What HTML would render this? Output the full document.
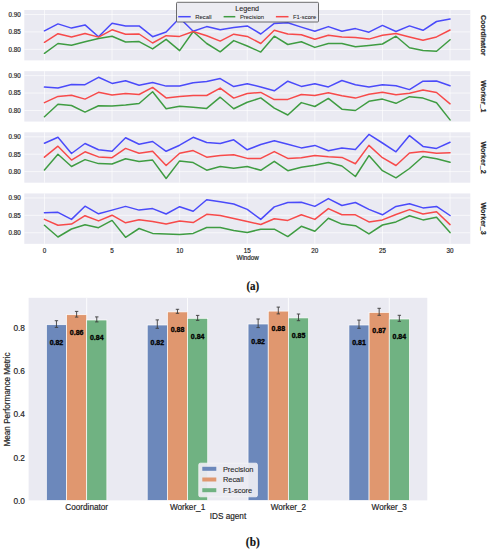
<!DOCTYPE html>
<html><head><meta charset="utf-8"><style>
html,body{margin:0;padding:0;background:#fff;}
svg{display:block;font-family:"Liberation Sans",sans-serif;}
</style></head><body>
<svg width="490" height="550" viewBox="0 0 490 550">
<rect width="490" height="550" fill="#fff"/>
<rect x="24.3" y="10" width="446" height="50.4" fill="#eaeaf2"/>
<line x1="44.45" y1="10" x2="44.45" y2="60.4" stroke="#fff" stroke-width="0.8" stroke-opacity="0.8"/>
<line x1="112.05" y1="10" x2="112.05" y2="60.4" stroke="#fff" stroke-width="0.8" stroke-opacity="0.8"/>
<line x1="179.65" y1="10" x2="179.65" y2="60.4" stroke="#fff" stroke-width="0.8" stroke-opacity="0.8"/>
<line x1="247.25" y1="10" x2="247.25" y2="60.4" stroke="#fff" stroke-width="0.8" stroke-opacity="0.8"/>
<line x1="314.85" y1="10" x2="314.85" y2="60.4" stroke="#fff" stroke-width="0.8" stroke-opacity="0.8"/>
<line x1="382.45" y1="10" x2="382.45" y2="60.4" stroke="#fff" stroke-width="0.8" stroke-opacity="0.8"/>
<line x1="450.05" y1="10" x2="450.05" y2="60.4" stroke="#fff" stroke-width="0.8" stroke-opacity="0.8"/>
<line x1="24.3" y1="14.5" x2="470.3" y2="14.5" stroke="#fff" stroke-width="0.8" stroke-opacity="0.8"/>
<text x="20.8" y="16.8" font-size="6.3" text-anchor="end" fill="#262626" stroke="#262626" stroke-width="0.18">0.90</text>
<line x1="24.3" y1="31.9" x2="470.3" y2="31.9" stroke="#fff" stroke-width="0.8" stroke-opacity="0.8"/>
<text x="20.8" y="34.2" font-size="6.3" text-anchor="end" fill="#262626" stroke="#262626" stroke-width="0.18">0.85</text>
<line x1="24.3" y1="49.3" x2="470.3" y2="49.3" stroke="#fff" stroke-width="0.8" stroke-opacity="0.8"/>
<text x="20.8" y="51.6" font-size="6.3" text-anchor="end" fill="#262626" stroke="#262626" stroke-width="0.18">0.80</text>
<polyline points="44.45,30.8 57.97,23.9 71.49,28.1 85.01,24.9 98.53,36.7 112.05,23.2 125.57,26.1 139.09,25.9 152.61,36.7 166.13,32 179.65,18 193.17,31.3 206.69,26.6 220.21,29.8 233.73,27.6 247.25,25.9 260.77,34 274.29,23.4 287.81,22.7 301.33,27.1 314.85,31.3 328.37,26.6 341.89,31.3 355.41,28.6 368.93,32.2 382.45,25.4 395.97,31.5 409.49,25.9 423.01,30.3 436.53,21.5 450.05,19" fill="none" stroke="#4a4afa" stroke-width="1.5" stroke-linejoin="round" stroke-linecap="round"/>
<polyline points="44.45,53.3 57.97,43.5 71.49,45.2 85.01,41.8 98.53,38.4 112.05,36.2 125.57,42 139.09,41.6 152.61,48.9 166.13,39.3 179.65,50.6 193.17,31.5 206.69,43.5 220.21,51.8 233.73,40.6 247.25,46 260.77,52.1 274.29,36.2 287.81,44.5 301.33,41.8 314.85,47.4 328.37,43.5 341.89,43.5 355.41,46.7 368.93,45.5 382.45,44 395.97,36.2 409.49,47.7 423.01,50.4 436.53,51.3 450.05,39.8" fill="none" stroke="#3f9c42" stroke-width="1.5" stroke-linejoin="round" stroke-linecap="round"/>
<polyline points="44.45,42.3 57.97,33.7 71.49,36.9 85.01,33.5 98.53,37.1 112.05,29.8 125.57,34.2 139.09,34 152.61,43 166.13,35.7 179.65,36.4 193.17,31.5 206.69,35.7 220.21,41.1 233.73,34.2 247.25,36.4 260.77,43.5 274.29,30.3 287.81,34 301.33,34.7 314.85,39.3 328.37,35.2 341.89,37.1 355.41,37.6 368.93,39.1 382.45,35.2 395.97,33.5 409.49,36.9 423.01,40.3 436.53,36.9 450.05,30" fill="none" stroke="#f74a4a" stroke-width="1.5" stroke-linejoin="round" stroke-linecap="round"/>
<text transform="translate(480.9,35.2) rotate(90)" x="0" y="0" font-size="7.1" font-weight="bold" text-anchor="middle" fill="#262626" stroke="#262626" stroke-width="0.18">Coordinator</text>
<rect x="24.3" y="71.15" width="446" height="50.4" fill="#eaeaf2"/>
<line x1="44.45" y1="71.15" x2="44.45" y2="121.55" stroke="#fff" stroke-width="0.8" stroke-opacity="0.8"/>
<line x1="112.05" y1="71.15" x2="112.05" y2="121.55" stroke="#fff" stroke-width="0.8" stroke-opacity="0.8"/>
<line x1="179.65" y1="71.15" x2="179.65" y2="121.55" stroke="#fff" stroke-width="0.8" stroke-opacity="0.8"/>
<line x1="247.25" y1="71.15" x2="247.25" y2="121.55" stroke="#fff" stroke-width="0.8" stroke-opacity="0.8"/>
<line x1="314.85" y1="71.15" x2="314.85" y2="121.55" stroke="#fff" stroke-width="0.8" stroke-opacity="0.8"/>
<line x1="382.45" y1="71.15" x2="382.45" y2="121.55" stroke="#fff" stroke-width="0.8" stroke-opacity="0.8"/>
<line x1="450.05" y1="71.15" x2="450.05" y2="121.55" stroke="#fff" stroke-width="0.8" stroke-opacity="0.8"/>
<line x1="24.3" y1="75.65" x2="470.3" y2="75.65" stroke="#fff" stroke-width="0.8" stroke-opacity="0.8"/>
<text x="20.8" y="77.95" font-size="6.3" text-anchor="end" fill="#262626" stroke="#262626" stroke-width="0.18">0.90</text>
<line x1="24.3" y1="93.05" x2="470.3" y2="93.05" stroke="#fff" stroke-width="0.8" stroke-opacity="0.8"/>
<text x="20.8" y="95.35" font-size="6.3" text-anchor="end" fill="#262626" stroke="#262626" stroke-width="0.18">0.85</text>
<line x1="24.3" y1="110.45" x2="470.3" y2="110.45" stroke="#fff" stroke-width="0.8" stroke-opacity="0.8"/>
<text x="20.8" y="112.75" font-size="6.3" text-anchor="end" fill="#262626" stroke="#262626" stroke-width="0.18">0.80</text>
<polyline points="44.45,87.1 57.97,87.9 71.49,84.4 85.01,84.7 98.53,77.3 112.05,83.4 125.57,80.8 139.09,85.2 152.61,82.5 166.13,86.1 179.65,85.9 193.17,82.7 206.69,81.5 220.21,78.6 233.73,86.6 247.25,83.7 260.77,87 274.29,90.8 287.81,81.2 301.33,86.4 314.85,83.7 328.37,86.9 341.89,80.5 355.41,84.7 368.93,86.9 382.45,84.7 395.97,85.7 409.49,89.6 423.01,81.2 436.53,81 450.05,85.7" fill="none" stroke="#4a4afa" stroke-width="1.5" stroke-linejoin="round" stroke-linecap="round"/>
<polyline points="44.45,116.8 57.97,104.3 71.49,105.5 85.01,112.1 98.53,105.7 112.05,106 125.57,105 139.09,103.5 152.61,91.8 166.13,108.7 179.65,106.2 193.17,107.2 206.69,108.4 220.21,97.2 233.73,108.7 247.25,102.3 260.77,97.9 274.29,108.2 287.81,115 301.33,102.6 314.85,106.5 328.37,98.4 341.89,109.2 355.41,110.5 368.93,101.3 382.45,99.1 395.97,103.3 409.49,96.7 423.01,98.1 436.53,102.8 450.05,119.9" fill="none" stroke="#3f9c42" stroke-width="1.5" stroke-linejoin="round" stroke-linecap="round"/>
<polyline points="44.45,102.6 57.97,96.4 71.49,95.2 85.01,99.1 98.53,92.3 112.05,95 125.57,93.5 139.09,94.5 152.61,87.4 166.13,97.9 179.65,96.4 193.17,95.5 206.69,95.5 220.21,88.1 233.73,98.1 247.25,93.5 260.77,92.4 274.29,99.6 287.81,99.4 301.33,94.5 314.85,95.5 328.37,92.8 341.89,95.7 355.41,98.1 368.93,94.2 382.45,92.3 395.97,94.7 409.49,93.2 423.01,90.1 436.53,92.5 450.05,103.8" fill="none" stroke="#f74a4a" stroke-width="1.5" stroke-linejoin="round" stroke-linecap="round"/>
<text transform="translate(480.9,96.35) rotate(90)" x="0" y="0" font-size="7.1" font-weight="bold" text-anchor="middle" fill="#262626" stroke="#262626" stroke-width="0.18">Worker_1</text>
<rect x="24.3" y="132.3" width="446" height="50.4" fill="#eaeaf2"/>
<line x1="44.45" y1="132.3" x2="44.45" y2="182.7" stroke="#fff" stroke-width="0.8" stroke-opacity="0.8"/>
<line x1="112.05" y1="132.3" x2="112.05" y2="182.7" stroke="#fff" stroke-width="0.8" stroke-opacity="0.8"/>
<line x1="179.65" y1="132.3" x2="179.65" y2="182.7" stroke="#fff" stroke-width="0.8" stroke-opacity="0.8"/>
<line x1="247.25" y1="132.3" x2="247.25" y2="182.7" stroke="#fff" stroke-width="0.8" stroke-opacity="0.8"/>
<line x1="314.85" y1="132.3" x2="314.85" y2="182.7" stroke="#fff" stroke-width="0.8" stroke-opacity="0.8"/>
<line x1="382.45" y1="132.3" x2="382.45" y2="182.7" stroke="#fff" stroke-width="0.8" stroke-opacity="0.8"/>
<line x1="450.05" y1="132.3" x2="450.05" y2="182.7" stroke="#fff" stroke-width="0.8" stroke-opacity="0.8"/>
<line x1="24.3" y1="136.8" x2="470.3" y2="136.8" stroke="#fff" stroke-width="0.8" stroke-opacity="0.8"/>
<text x="20.8" y="139.1" font-size="6.3" text-anchor="end" fill="#262626" stroke="#262626" stroke-width="0.18">0.90</text>
<line x1="24.3" y1="154.2" x2="470.3" y2="154.2" stroke="#fff" stroke-width="0.8" stroke-opacity="0.8"/>
<text x="20.8" y="156.5" font-size="6.3" text-anchor="end" fill="#262626" stroke="#262626" stroke-width="0.18">0.85</text>
<line x1="24.3" y1="171.6" x2="470.3" y2="171.6" stroke="#fff" stroke-width="0.8" stroke-opacity="0.8"/>
<text x="20.8" y="173.9" font-size="6.3" text-anchor="end" fill="#262626" stroke="#262626" stroke-width="0.18">0.80</text>
<polyline points="44.45,143.2 57.97,137.3 71.49,153.5 85.01,143.5 98.53,149.8 112.05,151.3 125.57,137.8 139.09,144.2 152.61,141.5 166.13,151.3 179.65,145.2 193.17,137.3 206.69,142.5 220.21,143.5 233.73,139.8 247.25,149.8 260.77,144.5 274.29,140.8 287.81,144.2 301.33,147.9 314.85,145.4 328.37,150.8 341.89,148.1 355.41,149.5 368.93,134.4 382.45,143 395.97,151.8 409.49,135.6 423.01,146.4 436.53,148.4 450.05,142.2" fill="none" stroke="#4a4afa" stroke-width="1.5" stroke-linejoin="round" stroke-linecap="round"/>
<polyline points="44.45,169.9 57.97,154.2 71.49,166.5 85.01,159.6 98.53,163.6 112.05,164 125.57,158.7 139.09,161.6 152.61,160.1 166.13,178.5 179.65,160.9 193.17,162.6 206.69,170.2 220.21,166.5 233.73,168.2 247.25,166.5 260.77,170.3 274.29,161.3 287.81,170.7 301.33,167.2 314.85,165.3 328.37,162.6 341.89,166 355.41,176.5 368.93,155.6 382.45,170.7 395.97,177.8 409.49,168.5 423.01,156.5 436.53,158.7 450.05,162.3" fill="none" stroke="#3f9c42" stroke-width="1.5" stroke-linejoin="round" stroke-linecap="round"/>
<polyline points="44.45,157.2 57.97,146.2 71.49,160.1 85.01,151.8 98.53,156.9 112.05,157.7 125.57,148.4 139.09,153.3 152.61,151.3 166.13,165.5 179.65,153.3 193.17,150.6 206.69,157.2 220.21,155.5 233.73,154.7 247.25,158.4 260.77,158.4 274.29,151.6 287.81,158.4 301.33,157.7 314.85,155.5 328.37,156.7 341.89,157.4 355.41,163.8 368.93,145.4 382.45,157.7 395.97,165.5 409.49,153 423.01,151.6 436.53,153.3 450.05,152.8" fill="none" stroke="#f74a4a" stroke-width="1.5" stroke-linejoin="round" stroke-linecap="round"/>
<text transform="translate(480.9,157.5) rotate(90)" x="0" y="0" font-size="7.1" font-weight="bold" text-anchor="middle" fill="#262626" stroke="#262626" stroke-width="0.18">Worker_2</text>
<rect x="24.3" y="193.45" width="446" height="50.4" fill="#eaeaf2"/>
<line x1="44.45" y1="193.45" x2="44.45" y2="243.85" stroke="#fff" stroke-width="0.8" stroke-opacity="0.8"/>
<line x1="112.05" y1="193.45" x2="112.05" y2="243.85" stroke="#fff" stroke-width="0.8" stroke-opacity="0.8"/>
<line x1="179.65" y1="193.45" x2="179.65" y2="243.85" stroke="#fff" stroke-width="0.8" stroke-opacity="0.8"/>
<line x1="247.25" y1="193.45" x2="247.25" y2="243.85" stroke="#fff" stroke-width="0.8" stroke-opacity="0.8"/>
<line x1="314.85" y1="193.45" x2="314.85" y2="243.85" stroke="#fff" stroke-width="0.8" stroke-opacity="0.8"/>
<line x1="382.45" y1="193.45" x2="382.45" y2="243.85" stroke="#fff" stroke-width="0.8" stroke-opacity="0.8"/>
<line x1="450.05" y1="193.45" x2="450.05" y2="243.85" stroke="#fff" stroke-width="0.8" stroke-opacity="0.8"/>
<line x1="24.3" y1="197.95" x2="470.3" y2="197.95" stroke="#fff" stroke-width="0.8" stroke-opacity="0.8"/>
<text x="20.8" y="200.25" font-size="6.3" text-anchor="end" fill="#262626" stroke="#262626" stroke-width="0.18">0.90</text>
<line x1="24.3" y1="215.35" x2="470.3" y2="215.35" stroke="#fff" stroke-width="0.8" stroke-opacity="0.8"/>
<text x="20.8" y="217.65" font-size="6.3" text-anchor="end" fill="#262626" stroke="#262626" stroke-width="0.18">0.85</text>
<line x1="24.3" y1="232.75" x2="470.3" y2="232.75" stroke="#fff" stroke-width="0.8" stroke-opacity="0.8"/>
<text x="20.8" y="235.05" font-size="6.3" text-anchor="end" fill="#262626" stroke="#262626" stroke-width="0.18">0.80</text>
<polyline points="44.45,212.8 57.97,212.3 71.49,219.4 85.01,206.2 98.53,213.8 112.05,210.1 125.57,206.4 139.09,210.1 152.61,208.6 166.13,214 179.65,206.7 193.17,211.3 206.69,199.8 220.21,201.8 233.73,204 247.25,209.4 260.77,219.4 274.29,206.9 287.81,202.5 301.33,202.3 314.85,206.4 328.37,198.6 341.89,205.5 355.41,202.5 368.93,209.4 382.45,214.8 395.97,206.4 409.49,203.7 423.01,207.9 436.53,206.4 450.05,215.5" fill="none" stroke="#4a4afa" stroke-width="1.5" stroke-linejoin="round" stroke-linecap="round"/>
<polyline points="44.45,225.3 57.97,237 71.49,229 85.01,224.8 98.53,227.7 112.05,220.4 125.57,237.3 139.09,228.5 152.61,233.4 166.13,233.9 179.65,234.4 193.17,233.4 206.69,227.5 220.21,227.5 233.73,230.4 247.25,232.4 260.77,229.3 274.29,229.2 287.81,236.6 301.33,226.3 314.85,231.2 328.37,218.2 341.89,224.1 355.41,225.7 368.93,233.9 382.45,225 395.97,221.9 409.49,215.7 423.01,219.9 436.53,217.2 450.05,232.6" fill="none" stroke="#3f9c42" stroke-width="1.5" stroke-linejoin="round" stroke-linecap="round"/>
<polyline points="44.45,219.4 57.97,225.3 71.49,224.1 85.01,215.7 98.53,220.9 112.05,215.2 125.57,222.8 139.09,219.7 152.61,221.4 166.13,224.1 179.65,220.9 193.17,222.6 206.69,214.3 220.21,215.5 233.73,218.4 247.25,221.6 260.77,224.5 274.29,218.7 287.81,220.4 301.33,214.8 314.85,219.4 328.37,208.6 341.89,214.8 355.41,214.8 368.93,221.9 382.45,219.9 395.97,214.5 409.49,209.6 423.01,214 436.53,211.8 450.05,224.6" fill="none" stroke="#f74a4a" stroke-width="1.5" stroke-linejoin="round" stroke-linecap="round"/>
<text transform="translate(480.9,218.65) rotate(90)" x="0" y="0" font-size="7.1" font-weight="bold" text-anchor="middle" fill="#262626" stroke="#262626" stroke-width="0.18">Worker_3</text>
<text x="44.45" y="252.8" font-size="6.3" text-anchor="middle" fill="#262626" stroke="#262626" stroke-width="0.18">0</text>
<text x="112.05" y="252.8" font-size="6.3" text-anchor="middle" fill="#262626" stroke="#262626" stroke-width="0.18">5</text>
<text x="179.65" y="252.8" font-size="6.3" text-anchor="middle" fill="#262626" stroke="#262626" stroke-width="0.18">10</text>
<text x="247.25" y="252.8" font-size="6.3" text-anchor="middle" fill="#262626" stroke="#262626" stroke-width="0.18">15</text>
<text x="314.85" y="252.8" font-size="6.3" text-anchor="middle" fill="#262626" stroke="#262626" stroke-width="0.18">20</text>
<text x="382.45" y="252.8" font-size="6.3" text-anchor="middle" fill="#262626" stroke="#262626" stroke-width="0.18">25</text>
<text x="450.05" y="252.8" font-size="6.3" text-anchor="middle" fill="#262626" stroke="#262626" stroke-width="0.18">30</text>
<text x="247.7" y="260" font-size="6.3" text-anchor="middle" fill="#262626" stroke="#262626" stroke-width="0.18">Window</text>
<rect x="176.5" y="2.3" width="142" height="19.7" fill="#ececf2" stroke="#4a4a4a" stroke-width="0.8" rx="1"/>
<text x="247.2" y="10.5" font-size="7.1" text-anchor="middle" fill="#262626" stroke="#262626" stroke-width="0.1">Legend</text>
<line x1="178.2" y1="16.7" x2="190.7" y2="16.7" stroke="#4a4afa" stroke-width="1.5"/>
<text x="195.3" y="18.8" font-size="5.9" fill="#262626" stroke="#262626" stroke-width="0.06">Recall</text>
<line x1="223.6" y1="16.7" x2="235.3" y2="16.7" stroke="#3f9c42" stroke-width="1.5"/>
<text x="239.9" y="18.8" font-size="5.9" fill="#262626" stroke="#262626" stroke-width="0.06">Precision</text>
<line x1="275.9" y1="16.7" x2="288.5" y2="16.7" stroke="#f74a4a" stroke-width="1.5"/>
<text x="293" y="18.8" font-size="5.9" fill="#262626" stroke="#262626" stroke-width="0.06">F1-score</text>
<text transform="translate(252.8,289.7) scale(0.917,1)" x="0" y="0" font-size="12" font-weight="bold" font-family="Liberation Serif, serif" text-anchor="middle" fill="#111" stroke="#111" stroke-width="0.18">(a)</text>
<rect x="28.6" y="297.8" width="398.7" height="202.6" fill="#eaeaf2"/>
<line x1="86.7" y1="297.8" x2="86.7" y2="500.4" stroke="#fff" stroke-width="0.9"/>
<line x1="187.55" y1="297.8" x2="187.55" y2="500.4" stroke="#fff" stroke-width="0.9"/>
<line x1="288.4" y1="297.8" x2="288.4" y2="500.4" stroke="#fff" stroke-width="0.9"/>
<line x1="389.25" y1="297.8" x2="389.25" y2="500.4" stroke="#fff" stroke-width="0.9"/>
<rect x="46.36" y="324.7" width="20.17" height="175.7" fill="#6c88bb" stroke="#fff" stroke-width="0.7"/>
<rect x="66.53" y="314.7" width="20.17" height="185.7" fill="#e0976f" stroke="#fff" stroke-width="0.7"/>
<rect x="86.7" y="320" width="20.17" height="180.4" fill="#70b282" stroke="#fff" stroke-width="0.7"/>
<rect x="147.21" y="325" width="20.17" height="175.4" fill="#6c88bb" stroke="#fff" stroke-width="0.7"/>
<rect x="167.38" y="311.9" width="20.17" height="188.5" fill="#e0976f" stroke="#fff" stroke-width="0.7"/>
<rect x="187.55" y="318.3" width="20.17" height="182.1" fill="#70b282" stroke="#fff" stroke-width="0.7"/>
<rect x="248.06" y="324" width="20.17" height="176.4" fill="#6c88bb" stroke="#fff" stroke-width="0.7"/>
<rect x="268.23" y="311.1" width="20.17" height="189.3" fill="#e0976f" stroke="#fff" stroke-width="0.7"/>
<rect x="288.4" y="317.9" width="20.17" height="182.5" fill="#70b282" stroke="#fff" stroke-width="0.7"/>
<rect x="348.91" y="325" width="20.17" height="175.4" fill="#6c88bb" stroke="#fff" stroke-width="0.7"/>
<rect x="369.08" y="312.4" width="20.17" height="188" fill="#e0976f" stroke="#fff" stroke-width="0.7"/>
<rect x="389.25" y="319" width="20.17" height="181.4" fill="#70b282" stroke="#fff" stroke-width="0.7"/>
<line x1="56.45" y1="320.7" x2="56.45" y2="327.4" stroke="#3c3c3c" stroke-width="0.9"/>
<line x1="54.74" y1="320.7" x2="58.15" y2="320.7" stroke="#3c3c3c" stroke-width="0.9"/>
<line x1="54.74" y1="327.4" x2="58.15" y2="327.4" stroke="#3c3c3c" stroke-width="0.9"/>
<text x="56.45" y="344.9" font-size="7" font-weight="bold" text-anchor="middle" fill="#000" stroke="#000" stroke-width="0.3">0.82</text>
<line x1="76.62" y1="311.4" x2="76.62" y2="317.1" stroke="#3c3c3c" stroke-width="0.9"/>
<line x1="74.92" y1="311.4" x2="78.32" y2="311.4" stroke="#3c3c3c" stroke-width="0.9"/>
<line x1="74.92" y1="317.1" x2="78.32" y2="317.1" stroke="#3c3c3c" stroke-width="0.9"/>
<text x="76.62" y="334.9" font-size="7" font-weight="bold" text-anchor="middle" fill="#000" stroke="#000" stroke-width="0.3">0.86</text>
<line x1="96.78" y1="316.9" x2="96.78" y2="321.9" stroke="#3c3c3c" stroke-width="0.9"/>
<line x1="95.08" y1="316.9" x2="98.48" y2="316.9" stroke="#3c3c3c" stroke-width="0.9"/>
<line x1="95.08" y1="321.9" x2="98.48" y2="321.9" stroke="#3c3c3c" stroke-width="0.9"/>
<text x="96.78" y="340.2" font-size="7" font-weight="bold" text-anchor="middle" fill="#000" stroke="#000" stroke-width="0.3">0.84</text>
<line x1="157.3" y1="319.9" x2="157.3" y2="328.3" stroke="#3c3c3c" stroke-width="0.9"/>
<line x1="155.6" y1="319.9" x2="159" y2="319.9" stroke="#3c3c3c" stroke-width="0.9"/>
<line x1="155.6" y1="328.3" x2="159" y2="328.3" stroke="#3c3c3c" stroke-width="0.9"/>
<text x="157.3" y="345.2" font-size="7" font-weight="bold" text-anchor="middle" fill="#000" stroke="#000" stroke-width="0.3">0.82</text>
<line x1="177.47" y1="309.3" x2="177.47" y2="313.3" stroke="#3c3c3c" stroke-width="0.9"/>
<line x1="175.77" y1="309.3" x2="179.17" y2="309.3" stroke="#3c3c3c" stroke-width="0.9"/>
<line x1="175.77" y1="313.3" x2="179.17" y2="313.3" stroke="#3c3c3c" stroke-width="0.9"/>
<text x="177.47" y="332.1" font-size="7" font-weight="bold" text-anchor="middle" fill="#000" stroke="#000" stroke-width="0.3">0.88</text>
<line x1="197.64" y1="315.4" x2="197.64" y2="320.4" stroke="#3c3c3c" stroke-width="0.9"/>
<line x1="195.94" y1="315.4" x2="199.34" y2="315.4" stroke="#3c3c3c" stroke-width="0.9"/>
<line x1="195.94" y1="320.4" x2="199.34" y2="320.4" stroke="#3c3c3c" stroke-width="0.9"/>
<text x="197.64" y="338.5" font-size="7" font-weight="bold" text-anchor="middle" fill="#000" stroke="#000" stroke-width="0.3">0.84</text>
<line x1="258.14" y1="319" x2="258.14" y2="327.6" stroke="#3c3c3c" stroke-width="0.9"/>
<line x1="256.44" y1="319" x2="259.84" y2="319" stroke="#3c3c3c" stroke-width="0.9"/>
<line x1="256.44" y1="327.6" x2="259.84" y2="327.6" stroke="#3c3c3c" stroke-width="0.9"/>
<text x="258.14" y="344.2" font-size="7" font-weight="bold" text-anchor="middle" fill="#000" stroke="#000" stroke-width="0.3">0.82</text>
<line x1="278.31" y1="307.1" x2="278.31" y2="313.9" stroke="#3c3c3c" stroke-width="0.9"/>
<line x1="276.62" y1="307.1" x2="280.01" y2="307.1" stroke="#3c3c3c" stroke-width="0.9"/>
<line x1="276.62" y1="313.9" x2="280.01" y2="313.9" stroke="#3c3c3c" stroke-width="0.9"/>
<text x="278.31" y="331.3" font-size="7" font-weight="bold" text-anchor="middle" fill="#000" stroke="#000" stroke-width="0.3">0.88</text>
<line x1="298.49" y1="314" x2="298.49" y2="320.7" stroke="#3c3c3c" stroke-width="0.9"/>
<line x1="296.79" y1="314" x2="300.19" y2="314" stroke="#3c3c3c" stroke-width="0.9"/>
<line x1="296.79" y1="320.7" x2="300.19" y2="320.7" stroke="#3c3c3c" stroke-width="0.9"/>
<text x="298.49" y="338.1" font-size="7" font-weight="bold" text-anchor="middle" fill="#000" stroke="#000" stroke-width="0.3">0.85</text>
<line x1="358.99" y1="320.1" x2="358.99" y2="328.3" stroke="#3c3c3c" stroke-width="0.9"/>
<line x1="357.29" y1="320.1" x2="360.69" y2="320.1" stroke="#3c3c3c" stroke-width="0.9"/>
<line x1="357.29" y1="328.3" x2="360.69" y2="328.3" stroke="#3c3c3c" stroke-width="0.9"/>
<text x="358.99" y="345.2" font-size="7" font-weight="bold" text-anchor="middle" fill="#000" stroke="#000" stroke-width="0.3">0.81</text>
<line x1="379.16" y1="308.3" x2="379.16" y2="315.3" stroke="#3c3c3c" stroke-width="0.9"/>
<line x1="377.46" y1="308.3" x2="380.86" y2="308.3" stroke="#3c3c3c" stroke-width="0.9"/>
<line x1="377.46" y1="315.3" x2="380.86" y2="315.3" stroke="#3c3c3c" stroke-width="0.9"/>
<text x="379.16" y="332.6" font-size="7" font-weight="bold" text-anchor="middle" fill="#000" stroke="#000" stroke-width="0.3">0.87</text>
<line x1="399.33" y1="315.3" x2="399.33" y2="321.4" stroke="#3c3c3c" stroke-width="0.9"/>
<line x1="397.63" y1="315.3" x2="401.03" y2="315.3" stroke="#3c3c3c" stroke-width="0.9"/>
<line x1="397.63" y1="321.4" x2="401.03" y2="321.4" stroke="#3c3c3c" stroke-width="0.9"/>
<text x="399.33" y="339.2" font-size="7" font-weight="bold" text-anchor="middle" fill="#000" stroke="#000" stroke-width="0.3">0.84</text>
<text x="25" y="503.9" font-size="8.3" text-anchor="end" fill="#262626" stroke="#262626" stroke-width="0.18" class="t">0.0</text>
<text x="25" y="460.62" font-size="8.3" text-anchor="end" fill="#262626" stroke="#262626" stroke-width="0.18" class="t">0.2</text>
<text x="25" y="417.34" font-size="8.3" text-anchor="end" fill="#262626" stroke="#262626" stroke-width="0.18" class="t">0.4</text>
<text x="25" y="374.06" font-size="8.3" text-anchor="end" fill="#262626" stroke="#262626" stroke-width="0.18" class="t">0.6</text>
<text x="25" y="330.78" font-size="8.3" text-anchor="end" fill="#262626" stroke="#262626" stroke-width="0.18" class="t">0.8</text>
<text x="86.7" y="510.2" font-size="8.2" text-anchor="middle" fill="#262626" stroke="#262626" stroke-width="0.18">Coordinator</text>
<text x="187.55" y="510.2" font-size="8.2" text-anchor="middle" fill="#262626" stroke="#262626" stroke-width="0.18">Worker_1</text>
<text x="288.4" y="510.2" font-size="8.2" text-anchor="middle" fill="#262626" stroke="#262626" stroke-width="0.18">Worker_2</text>
<text x="389.25" y="510.2" font-size="8.2" text-anchor="middle" fill="#262626" stroke="#262626" stroke-width="0.18">Worker_3</text>
<text x="228" y="519.1" font-size="8.2" text-anchor="middle" fill="#262626" stroke="#262626" stroke-width="0.18">IDS agent</text>
<text transform="translate(10.2,399.5) rotate(-90)" x="0" y="0" font-size="8.2" text-anchor="middle" fill="#262626" stroke="#262626" stroke-width="0.18">Mean Performance Metric</text>
<rect x="198.8" y="463.2" width="58.6" height="33.6" fill="#ebebf1" fill-opacity="0.95" stroke="#f4f4f6" stroke-width="0.8" rx="1.5"/>
<rect x="202.3" y="466.8" width="14" height="4" fill="#6c88bb"/>
<text x="222.9" y="471.5" font-size="7.45" fill="#262626" stroke="#262626" stroke-width="0.1">Precision</text>
<rect x="202.3" y="477.5" width="14" height="4" fill="#e0976f"/>
<text x="222.9" y="482.2" font-size="7.45" fill="#262626" stroke="#262626" stroke-width="0.1">Recall</text>
<rect x="202.3" y="488.2" width="14" height="4" fill="#70b282"/>
<text x="222.9" y="492.9" font-size="7.45" fill="#262626" stroke="#262626" stroke-width="0.1">F1-score</text>
<text transform="translate(252.8,546) scale(0.927,1)" x="0" y="0" font-size="12.3" font-weight="bold" font-family="Liberation Serif, serif" text-anchor="middle" fill="#111" stroke="#111" stroke-width="0.18">(b)</text>
</svg></body></html>
